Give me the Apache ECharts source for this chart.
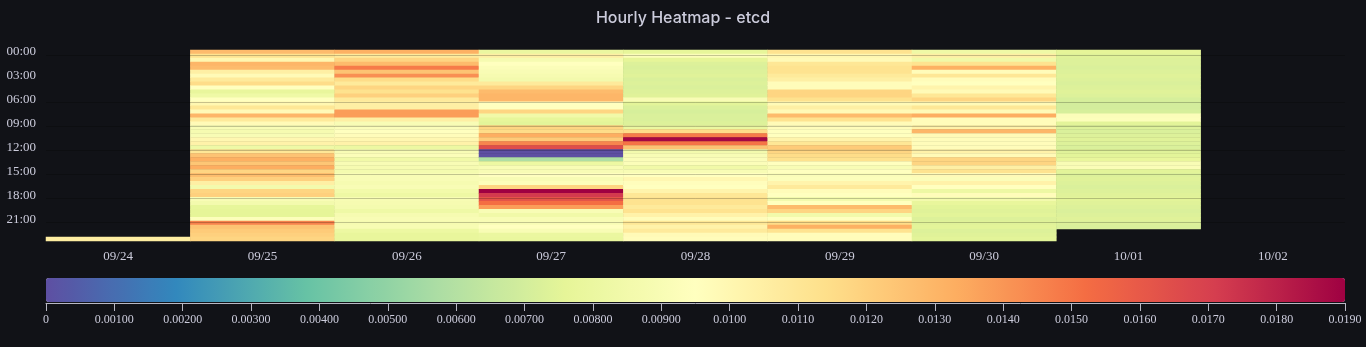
<!DOCTYPE html>
<html>
<head>
<meta charset="utf-8">
<script src="https://cdn.jsdelivr.net/npm/echarts@6/dist/echarts.min.js"></script>
<style>
html,body{margin:0;padding:0;background:#111217;}
#c{width:1366px;height:347px;}
</style>
</head>
<body>
<div id="c"></div>
<script>
// ---- data ----
const days = ['09/24','09/25','09/26','09/27','09/28','09/29','09/30','10/01','10/02'];
const slots = ['00:00','00:30','01:00','01:30','02:00','02:30','03:00','03:30','04:00','04:30','05:00','05:30',
               '06:00','06:30','07:00','07:30','08:00','08:30','09:00','09:30','10:00','10:30','11:00','11:30',
               '12:00','12:30','13:00','13:30','14:00','14:30','15:00','15:30','16:00','16:30','17:00','17:30',
               '18:00','18:30','19:00','19:30','20:00','20:30','21:00','21:30','22:00','22:30','23:00','23:30'];
const seamRows = ['s0','s1','s2','s3','s4','s5','s6','s7','s8','s9'];
const seamHidden = [0, 2, 9];
const firstSlot = [47, 0, 0, 0, 0, 0, 0, 0, 0];

const d0924 = [0.0106];
const d0925 = [0.0128,0.0112,0.0100,0.0130,0.0128,0.0105,0.0098,0.0108,0.0115,0.0095,0.0078,0.0083,
               0.0095,0.0100,0.0110,0.0098,0.0130,0.0108,0.0098,0.0090,0.0088,0.0090,0.0100,0.0103,
               0.0083,0.0110,0.0125,0.0132,0.0124,0.0133,0.0118,0.0127,0.0120,0.0105,0.0086,0.0118,
               0.0120,0.0090,0.0086,0.0077,0.0076,0.0076,0.0093,0.0146,0.0125,0.0122,0.0120,0.0118];
const d0926 = [0.0132,0.0108,0.0118,0.0128,0.0148,0.0125,0.0142,0.0115,0.0108,0.0118,0.0113,0.0120,
               0.0108,0.0105,0.0105,0.0138,0.0138,0.0105,0.0090,0.0092,0.0095,0.0097,0.0100,0.0103,
               0.0081,0.0090,0.0092,0.0084,0.0090,0.0088,0.0087,0.0090,0.0090,0.0088,0.0090,0.0085,
               0.0082,0.0089,0.0088,0.0087,0.0083,0.0088,0.0090,0.0088,0.0089,0.0081,0.0078,0.0078];
const d0927 = [0.0080,0.0105,0.0088,0.0095,0.0092,0.0090,0.0088,0.0086,0.0108,0.0118,0.0128,0.0130,
               0.0130,0.0095,0.0095,0.0118,0.0084,0.0077,0.0075,0.0118,0.0115,0.0133,0.0122,0.0145,
               0.0165,0.0000,0.0000,0.0058,0.0081,0.0090,0.0090,0.0095,0.0090,0.0093,0.0118,0.0190,
               0.0172,0.0162,0.0152,0.0138,0.0090,0.0084,0.0090,0.0090,0.0095,0.0090,0.0080,0.0079];
const d0928 = [0.0077,0.0092,0.0076,0.0073,0.0072,0.0073,0.0074,0.0072,0.0073,0.0072,0.0073,0.0074,
               0.0090,0.0075,0.0072,0.0071,0.0072,0.0072,0.0073,0.0080,0.0115,0.0148,0.0188,0.0150,
               0.0125,0.0086,0.0090,0.0092,0.0092,0.0084,0.0090,0.0095,0.0100,0.0096,0.0095,0.0102,
               0.0110,0.0112,0.0112,0.0108,0.0112,0.0103,0.0097,0.0110,0.0103,0.0108,0.0098,0.0097];
const d0929 = [0.0112,0.0100,0.0098,0.0110,0.0112,0.0112,0.0108,0.0105,0.0097,0.0097,0.0118,0.0118,
               0.0113,0.0098,0.0105,0.0098,0.0128,0.0112,0.0098,0.0097,0.0095,0.0095,0.0102,0.0110,
               0.0122,0.0118,0.0115,0.0113,0.0095,0.0090,0.0095,0.0092,0.0093,0.0102,0.0108,0.0097,
               0.0095,0.0086,0.0095,0.0128,0.0118,0.0085,0.0095,0.0115,0.0132,0.0112,0.0097,0.0097];
const d0930 = [0.0083,0.0105,0.0084,0.0112,0.0132,0.0097,0.0110,0.0097,0.0095,0.0102,0.0098,0.0110,
               0.0118,0.0098,0.0110,0.0098,0.0133,0.0097,0.0097,0.0103,0.0130,0.0098,0.0097,0.0097,
               0.0097,0.0103,0.0098,0.0118,0.0118,0.0105,0.0112,0.0098,0.0092,0.0103,0.0095,0.0082,
               0.0097,0.0086,0.0078,0.0075,0.0074,0.0075,0.0073,0.0074,0.0075,0.0073,0.0074,0.0075];
const d1001 = [0.0076,0.0074,0.0073,0.0073,0.0072,0.0073,0.0074,0.0073,0.0072,0.0073,0.0074,0.0073,
               0.0071,0.0070,0.0070,0.0071,0.0092,0.0093,0.0075,0.0073,0.0072,0.0073,0.0074,0.0073,
               0.0072,0.0074,0.0075,0.0078,0.0090,0.0091,0.0075,0.0073,0.0074,0.0073,0.0072,0.0073,
               0.0074,0.0075,0.0074,0.0073,0.0072,0.0073,0.0074,0.0073,0.0072];
const d1002 = [];
const dayValues = [d0924,d0925,d0926,d0927,d0928,d0929,d0930,d1001,d1002];

const scaleMin = 0, scaleMax = 0.019, scaleStep = 0.001;
const spectral = ['#5e4fa2','#3288bd','#66c2a5','#abdda4','#e6f598','#ffffbf','#fee08b','#fdae61','#f46d43','#d53e4f','#9e0142'];

// ---- build ----
const cells = [];
dayValues.forEach((arr, di) => {
  arr.forEach((v, k) => { cells.push([di, firstSlot[di] + k, v]); });
});

const txt = '#ccccdc';
const serif = '"Liberation Serif", "DejaVu Serif", serif';
const L = 46, R = 21;
const plotTop = 50, plotH = 191;
const seamStep = plotH / 8;

const chart = echarts.init(document.getElementById('c'), null, {renderer: 'canvas'});
chart.setOption({
  backgroundColor: '#111217',
  animation: false,
  title: {
    text: 'Hourly Heatmap - etcd', left: 'center', top: 5,
    textStyle: {color: txt, fontFamily: 'Inter, Roboto, sans-serif', fontSize: 16, fontWeight: 500}
  },
  grid: [
    {left: L, right: R, top: plotTop, height: plotH},
    {left: L, right: R, top: plotTop + 4.8 - seamStep, height: seamStep * 9},
    {left: L, right: R, top: 302, height: 1}
  ],
  xAxis: [
    {type: 'category', gridIndex: 0, data: days, axisLine: {show: false}, axisTick: {show: false},
     splitLine: {show: false},
     axisLabel: {color: txt, fontFamily: serif, fontSize: 13, margin: 9}},
    {type: 'value', gridIndex: 1, show: false},
    {type: 'value', gridIndex: 2, min: scaleMin, max: scaleMax, interval: scaleStep, position: 'top',
     axisLine: {show: true, lineStyle: {color: '#b8b8c4', width: 1}},
     axisTick: {show: true, inside: true, length: 8, lineStyle: {color: '#b8b8c4'}},
     splitLine: {show: false},
     axisLabel: {color: txt, fontFamily: serif, fontSize: 12, margin: 12, inside: true,
       formatter: v => v === 0 ? '0' : Number(v).toPrecision(3)}}
  ],
  yAxis: [
    {type: 'category', gridIndex: 0, data: slots, inverse: true, axisLine: {show: false},
     axisTick: {show: false}, splitLine: {show: false},
     axisLabel: {color: txt, fontFamily: serif, fontSize: 13, interval: 5, margin: 10}},
    {type: 'category', gridIndex: 1, data: seamRows, boundaryGap: false, inverse: true, z: 10,
     axisLine: {show: false}, axisTick: {show: false}, axisLabel: {show: false},
     splitLine: {show: true, interval: (i) => seamHidden.indexOf(i) < 0,
                 lineStyle: {color: 'rgba(0,0,0,0.22)', width: 1}}},
    {type: 'value', gridIndex: 2, show: false}
  ],
  visualMap: {
    type: 'continuous', min: scaleMin, max: scaleMax, seriesIndex: 0,
    orient: 'horizontal', left: L, top: 278, padding: 0,
    itemWidth: 24, itemHeight: 1299, calculable: false, hoverLink: false,
    showLabel: false, text: null,
    inRange: {color: spectral}
  },
  series: [{
    type: 'heatmap', xAxisIndex: 0, yAxisIndex: 0, data: cells,
    itemStyle: {borderWidth: 0},
    emphasis: {disabled: true}
  }]
});
</script>
</body>
</html>
